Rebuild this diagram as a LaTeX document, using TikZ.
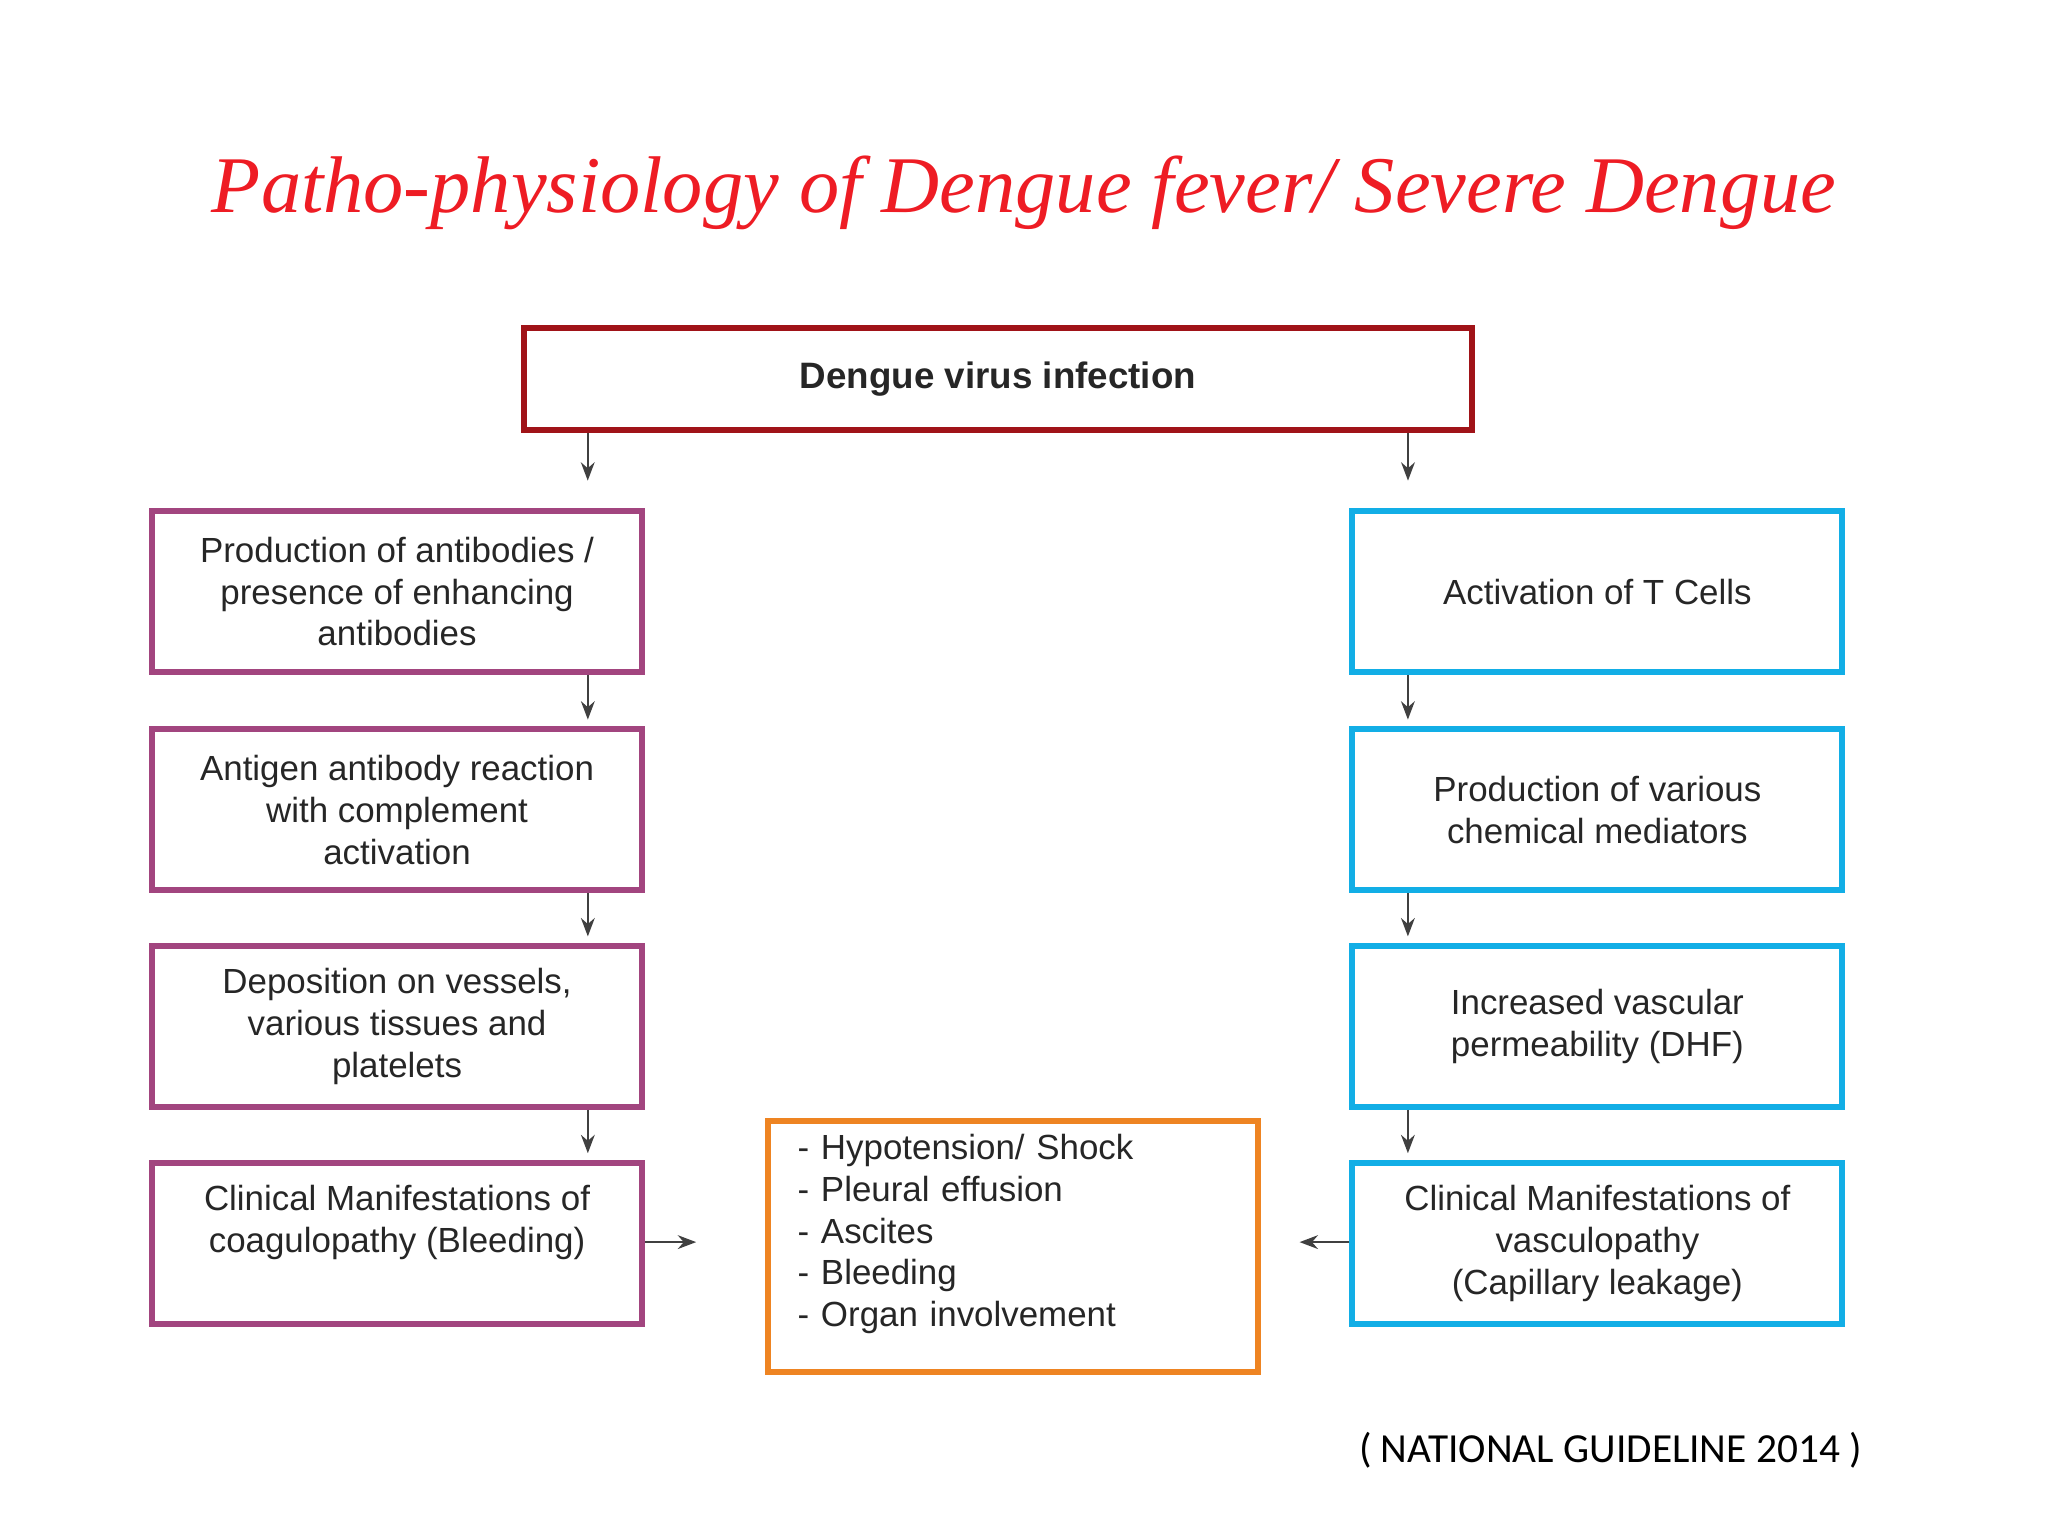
\documentclass[tikz,border=0pt]{standalone}
\usepackage{fontspec}
\setmainfont{Liberation Sans}
\newfontfamily\titlefont{Liberation Serif}
\newfontfamily\footfont{Carlito}
\usetikzlibrary{arrows.meta}
\definecolor{dred}{HTML}{A01318}
\definecolor{purp}{HTML}{A2457F}
\definecolor{cyanb}{HTML}{12AEE6}
\definecolor{orng}{HTML}{EE8422}
\definecolor{ttl}{HTML}{EE1C24}
\begin{document}
\begin{tikzpicture}[x=0.01cm,y=-0.01cm,
  box/.style={draw,line width=4.5pt*0.2845,inner sep=0,align=center,font=\fontsize{7.6pt}{9.1pt}\selectfont,text=black!85},
  lbox/.style={box,draw=purp,minimum width=375*0.2845pt,minimum height=123*0.2845pt},
  rbox/.style={box,draw=cyanb,minimum width=375*0.2845pt,minimum height=123*0.2845pt},
  arr/.style={-{Stealth[length=4pt,width=3pt]},black!75,line width=0.5pt}]
\useasboundingbox (0,0) rectangle (1568,1176);
\node[font=\titlefont\itshape\fontsize{17.5pt}{20pt}\selectfont,text=ttl] (title) at (784,148) {Patho-physiology of Dengue fever/ Severe Dengue};
\node[box,draw=dred,minimum width=725*0.2845pt,minimum height=78*0.2845pt,font=\bfseries\fontsize{8pt}{10pt}\selectfont] (top) at (764,290) {Dengue virus infection};
\node[lbox] (l1) at (304,453) {Production of antibodies /\\presence of enhancing\\antibodies};
\node[lbox] (l2) at (304,620) {Antigen antibody reaction\\with complement\\activation};
\node[lbox] (l3) at (304,786) {Deposition on vessels,\\various tissues and\\platelets};
\node[lbox,text depth=38*0.2845pt] (l4) at (304,952) {Clinical Manifestations of\\coagulopathy (Bleeding)};
\node[rbox] (r1) at (1223,453) {Activation of T Cells};
\node[rbox] (r2) at (1223,620) {Production of various\\chemical mediators};
\node[rbox] (r3) at (1223,786) {Increased vascular\\permeability (DHF)};
\node[rbox] (r4) at (1223,952) {Clinical Manifestations of\\vasculopathy\\(Capillary leakage)};
\node[box,draw=orng,minimum width=375*0.2845pt,minimum height=192*0.2845pt,align=left,anchor=north west,text width=330*0.2845pt,inner xsep=22*0.2845pt,inner ysep=0pt] (o) at (586,856) {\\[-9pt]- Hypotension/ Shock\\- Pleural effusion\\- Ascites\\- Bleeding\\- Organ involvement\\[20pt]};
\node[font=\footfont\fontsize{9pt}{11pt}\selectfont] (foot) at (1233,1110) {( NATIONAL GUIDELINE 2014 )};
\coordinate (ta) at (450,368); \coordinate (tb) at (1078,368);
\draw[arr] (top.south -| ta) -- (ta);
\draw[arr] (top.south -| tb) -- (tb);
\foreach \a/\b in {l1/l2,l2/l3,l3/l4}{\draw[arr] ([xshift=146*0.2845pt]\a.south) -- ([xshift=146*0.2845pt,yshift=1.5pt]\b.north);}
\foreach \a/\b in {r1/r2,r2/r3,r3/r4}{\draw[arr] ([xshift=-145*0.2845pt]\a.south) -- ([xshift=-145*0.2845pt,yshift=1.5pt]\b.north);}
\coordinate (la) at (533,951); \coordinate (ra) at (995,951);
\draw[arr] (l4.east |- la) -- (la);
\draw[arr] (r4.west |- ra) -- (ra);
\end{tikzpicture}
\end{document}
